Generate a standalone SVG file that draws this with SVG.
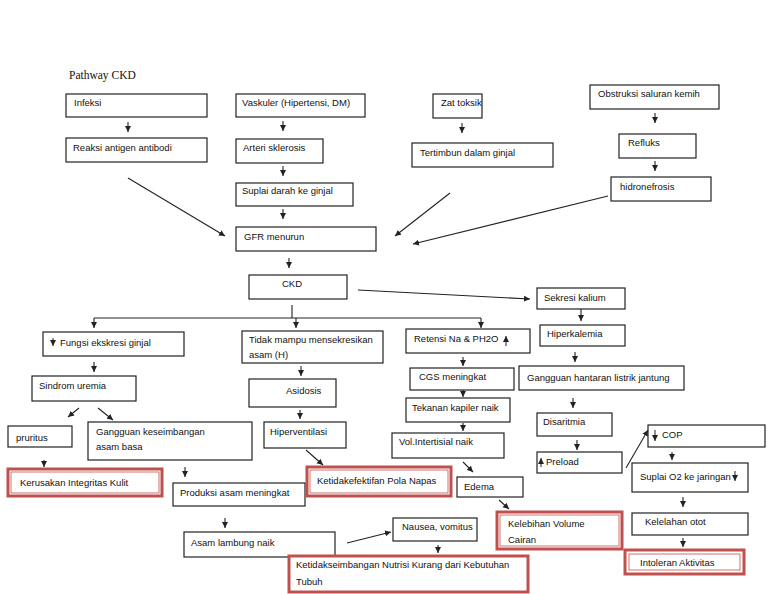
<svg xmlns="http://www.w3.org/2000/svg" width="768" height="594" viewBox="0 0 768 594">
<style>
.b{fill:#fff;stroke:#222;stroke-width:1.2}
.r{fill:#fff;stroke:#c0504d;stroke-width:3}
.ri{fill:none;stroke:#c0504d;stroke-width:0.8}
text{font-family:"Liberation Sans",Arial,sans-serif;font-size:9.5px;fill:#111}
.c line,.c path{stroke:#222;stroke-width:1.1;fill:none}
.c line{marker-end:url(#a)}
</style>
<defs>
<marker id="a" markerUnits="userSpaceOnUse" markerWidth="7" markerHeight="7" refX="6" refY="3.5" orient="auto"><path d="M0,0.5 L6,3.5 L0,6.5 Z" fill="#222"/></marker>
</defs>
<rect width="768" height="594" fill="#fff"/>
<text x="69" y="79" style="font-family:'Liberation Serif',serif;font-size:11.5px">Pathway CKD</text>
<g id="infeksi"><rect class="b" x="66" y="94" width="141" height="23"/><text x="74" y="106">Infeksi</text></g>
<g id="reaksi"><rect class="b" x="66" y="138" width="141" height="24"/><text x="73" y="151">Reaksi antigen antibodi</text></g>
<g id="vaskuler"><rect class="b" x="236" y="94" width="129" height="23"/><text x="242" y="106">Vaskuler (Hipertensi, DM)</text></g>
<g id="arteri"><rect class="b" x="236" y="139" width="87" height="24"/><text x="243" y="151">Arteri sklerosis</text></g>
<g id="suplai"><rect class="b" x="236" y="183" width="117" height="23"/><text x="242" y="194">Suplai darah ke ginjal</text></g>
<g id="gfr"><rect class="b" x="236" y="227" width="140" height="24"/><text x="244" y="240">GFR menurun</text></g>
<g id="ckd"><rect class="b" x="249" y="275" width="98" height="24"/><text x="282" y="287">CKD</text></g>
<g id="zat"><rect class="b" x="433" y="94" width="49" height="24"/><text x="441" y="106">Zat toksik</text></g>
<g id="tertimbun"><rect class="b" x="412" y="143" width="141" height="24"/><text x="420" y="156">Tertimbun dalam ginjal</text></g>
<g id="obstruksi"><rect class="b" x="590" y="85" width="129" height="24"/><text x="598" y="97">Obstruksi saluran kemih</text></g>
<g id="refluks"><rect class="b" x="619" y="134" width="77" height="24"/><text x="628" y="146">Refluks</text></g>
<g id="hidro"><rect class="b" x="611" y="177" width="100" height="24"/><text x="620" y="190">hidronefrosis</text></g>
<g id="sekresi"><rect class="b" x="537" y="288" width="88" height="21"/><text x="544" y="301">Sekresi kalium</text></g>
<g id="hiperkalemia"><rect class="b" x="540" y="325" width="85" height="21"/><text x="547" y="337">Hiperkalemia</text></g>
<g id="hantaran"><rect class="b" x="519" y="366" width="165" height="24"/><text x="527" y="381">Gangguan hantaran listrik jantung</text></g>
<g id="disaritmia"><rect class="b" x="537" y="413" width="75" height="23"/><text x="543" y="425">Disaritmia</text></g>
<g id="preload"><rect class="b" x="537" y="452" width="85" height="21"/><text x="546" y="465">Preload</text><line x1="541" y1="467" x2="541" y2="458" style="stroke:#222;marker-end:url(#a)"/></g>
<g id="cop"><rect class="b" x="648" y="425" width="117" height="22"/><text x="662" y="438">COP</text><line x1="655" y1="430" x2="655" y2="441" style="stroke:#222;marker-end:url(#a)"/></g>
<g id="suplaio2"><rect class="b" x="632" y="463" width="116" height="29"/><text x="640" y="480">Suplai O2 ke jaringan</text><line x1="735" y1="471" x2="735" y2="481" style="stroke:#222;marker-end:url(#a)"/></g>
<g id="kelelahan"><rect class="b" x="632" y="513" width="116" height="22"/><text x="645" y="525">Kelelahan otot</text></g>
<g id="intoleran"><rect class="r" x="625" y="550" width="119" height="24"/><rect class="ri" x="629" y="554" width="111" height="16"/><text x="640" y="566">Intoleran Aktivitas</text></g>
<g id="kelebihan"><rect class="r" x="497" y="512" width="125" height="37"/><rect class="ri" x="500" y="515" width="119" height="31"/><text x="508" y="527">Kelebihan Volume</text><text x="508" y="543">Cairan</text></g>
<g id="fungsi"><rect class="b" x="43" y="332" width="141" height="24"/><text x="60" y="346">Fungsi ekskresi ginjal</text><line x1="53" y1="338" x2="53" y2="346" style="stroke:#222;marker-end:url(#a)"/></g>
<g id="uremia"><rect class="b" x="32" y="376" width="104" height="25"/><text x="39" y="389">Sindrom uremia</text></g>
<g id="pruritus"><rect class="b" x="8" y="426" width="64" height="21"/><text x="16" y="441">pruritus</text></g>
<g id="gangguanasam"><rect class="b" x="88" y="422" width="164" height="38"/><text x="96" y="435">Gangguan keseimbangan</text><text x="96" y="450">asam basa</text></g>
<g id="kerusakan"><rect class="r" x="8" y="469" width="154" height="27"/><rect class="ri" x="11" y="472" width="148" height="21"/><text x="20" y="486">Kerusakan Integritas Kulit</text></g>
<g id="produksi"><rect class="b" x="173" y="483" width="132" height="23"/><text x="180" y="496">Produksi asam meningkat</text></g>
<g id="lambung"><rect class="b" x="184" y="532" width="151" height="25"/><text x="191" y="546">Asam lambung naik</text></g>
<g id="nutrisi"><rect class="r" x="289" y="556" width="239" height="36"/><text x="296" y="568">Ketidakseimbangan Nutrisi Kurang dari Kebutuhan</text><text x="296" y="585">Tubuh</text></g>
<g id="nausea"><rect class="b" x="393" y="518" width="84" height="23"/><text x="402" y="530">Nausea, vomitus</text></g>
<g id="tidak"><rect class="b" x="242" y="331" width="141" height="32"/><text x="249" y="343">Tidak mampu mensekresikan</text><text x="249" y="358">asam (H)</text></g>
<g id="asidosis"><rect class="b" x="249" y="379" width="87" height="28"/><text x="286" y="394">Asidosis</text></g>
<g id="hiperventilasi"><rect class="b" x="264" y="422" width="82" height="26"/><text x="270" y="435">Hiperventilasi</text></g>
<g id="ketidakefektifan"><rect class="r" x="307" y="467" width="144" height="29"/><rect class="ri" x="310" y="470" width="138" height="23"/><text x="317" y="484">Ketidakefektifan Pola Napas</text></g>
<g id="retensi"><rect class="b" x="406" y="329" width="124" height="24"/><text x="414" y="342">Retensi Na &amp; PH2O</text><line x1="506" y1="346" x2="506" y2="336" style="stroke:#222;marker-end:url(#a)"/></g>
<g id="cgs"><rect class="b" x="410" y="368" width="104" height="22"/><text x="419" y="380">CGS meningkat</text></g>
<g id="tekanan"><rect class="b" x="406" y="398" width="104" height="24"/><text x="412" y="411">Tekanan kapiler naik</text></g>
<g id="vol"><rect class="b" x="392" y="433" width="112" height="25"/><text x="399" y="445">Vol.Intertisial naik</text></g>
<g id="edema"><rect class="b" x="457" y="477" width="66" height="20"/><text x="464" y="490">Edema</text></g>
<g class="c" id="connectors">
<line x1="128" y1="122" x2="128" y2="132"/>
<line x1="283" y1="121" x2="283" y2="131"/>
<line x1="283" y1="166" x2="283" y2="176"/>
<line x1="283" y1="209" x2="283" y2="219"/>
<line x1="289" y1="258" x2="289" y2="268"/>
<line x1="462" y1="123" x2="462" y2="133"/>
<line x1="655" y1="113" x2="655" y2="123"/>
<line x1="655" y1="161" x2="655" y2="171"/>
<line x1="128" y1="178" x2="225" y2="236"/>
<line x1="450" y1="193" x2="395" y2="236"/>
<line x1="608" y1="196" x2="413" y2="244"/>
<line x1="358" y1="290" x2="530" y2="299"/>
<path d="M292,305 V318 M94,318 H481"/>
<line x1="94" y1="318" x2="94" y2="328"/>
<line x1="296" y1="318" x2="296" y2="328"/>
<line x1="481" y1="318" x2="481" y2="328"/>
<line x1="581" y1="309" x2="581" y2="321"/>
<line x1="575" y1="352" x2="575" y2="362"/>
<line x1="573" y1="398" x2="573" y2="408"/>
<line x1="577" y1="440" x2="577" y2="450"/>
<line x1="626" y1="468" x2="648" y2="430"/>
<line x1="672" y1="452" x2="672" y2="460"/>
<line x1="683" y1="497" x2="683" y2="507"/>
<line x1="683" y1="538" x2="683" y2="547"/>
<line x1="463" y1="357" x2="463" y2="366"/>
<line x1="463" y1="390" x2="463" y2="397"/>
<line x1="463" y1="423" x2="463" y2="431"/>
<line x1="463" y1="462" x2="473" y2="472"/>
<line x1="499" y1="500" x2="509" y2="509"/>
<line x1="94" y1="362" x2="94" y2="372"/>
<line x1="79" y1="408" x2="68" y2="417"/>
<line x1="98" y1="408" x2="113" y2="420"/>
<line x1="44" y1="460" x2="44" y2="467"/>
<line x1="185" y1="467" x2="185" y2="477"/>
<line x1="225" y1="518" x2="225" y2="528"/>
<line x1="347" y1="543" x2="391" y2="532"/>
<line x1="438" y1="545" x2="438" y2="553"/>
<line x1="301" y1="366" x2="301" y2="376"/>
<line x1="300" y1="410" x2="300" y2="419"/>
<line x1="306" y1="450" x2="323" y2="465"/>
</g>
</svg>
